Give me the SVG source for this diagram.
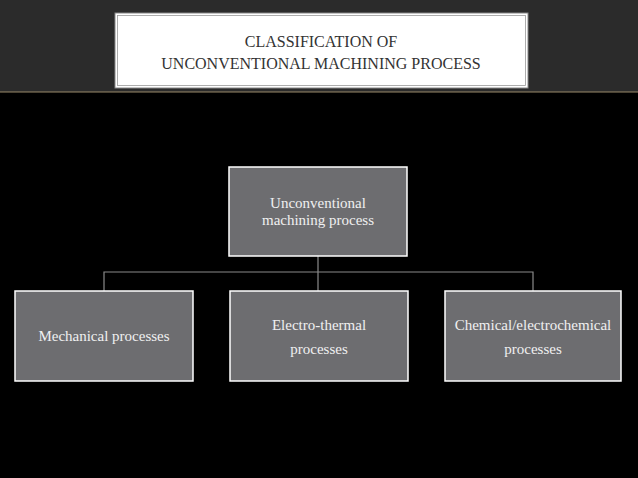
<svg xmlns="http://www.w3.org/2000/svg" width="638" height="478" viewBox="0 0 638 478">
<style>
.box{fill:#6d6d70;stroke:#ffffff;stroke-width:1.5}
.t{font-family:"Liberation Serif",serif;font-size:15px;fill:#f0f0f0;text-anchor:middle}
.h{font-family:"Liberation Serif",serif;font-size:16px;fill:#333;text-anchor:middle}
</style>
<rect width="638" height="478" fill="#000"/>
<rect width="638" height="92" fill="#2b2b2b"/>
<line x1="0" y1="92" x2="638" y2="92" stroke="#9a8a6a" stroke-width="1"/>
<g id="title">
<rect x="115" y="13" width="413" height="75" fill="#fff" stroke="#888" stroke-width="1"/>
<rect x="117.5" y="15.5" width="408" height="70" fill="none" stroke="#999" stroke-width="0.8"/>
<text class="h" x="321" y="47">CLASSIFICATION OF</text>
<text class="h" x="321" y="69">UNCONVENTIONAL MACHINING PROCESS</text>
</g>
<g id="connectors" fill="none" stroke="#8a8a8a" stroke-width="1.2">
<path d="M318 256V272M104 291V272H533V291M318 272V291"/>
</g>
<g id="root"><rect class="box" x="229" y="167" width="178" height="89"/>
<text class="t" x="318" y="208">Unconventional</text><text class="t" x="318" y="225">machining process</text></g>
<g id="mech"><rect class="box" x="15" y="291" width="178" height="90"/>
<text class="t" x="104" y="341">Mechanical processes</text></g>
<g id="electro"><rect class="box" x="230" y="291" width="178" height="90"/>
<text class="t" x="319" y="330">Electro-thermal</text><text class="t" x="319" y="354">processes</text></g>
<g id="chem"><rect class="box" x="445" y="291" width="176" height="90"/>
<text class="t" x="533" y="330">Chemical/electrochemical</text><text class="t" x="533" y="354">processes</text></g>
</svg>
